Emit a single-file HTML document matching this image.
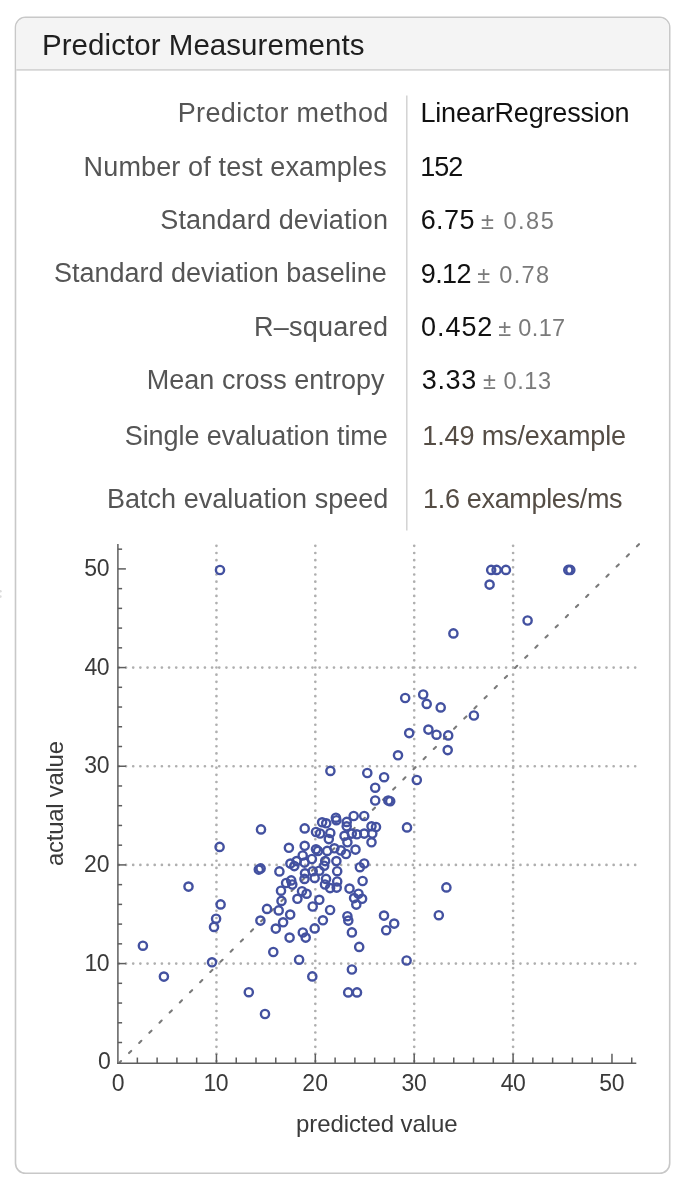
<!DOCTYPE html>
<html><head><meta charset="utf-8"><title>Predictor Measurements</title>
<style>
html,body{margin:0;padding:0;background:#fff;}
svg{display:block;font-family:"Liberation Sans",Arial,sans-serif;}
</style></head>
<body>
<svg width="685" height="1189" viewBox="0 0 685 1189">
<rect x="15.5" y="17.3" width="654.2" height="1156" rx="10" ry="10" fill="#fff" stroke="#c8c8c8" stroke-width="1.6"/>
<path d="M16.3 69.8 V27.3 A9.2 9.2 0 0 1 25.5 18.1 H659.7 A9.2 9.2 0 0 1 668.9 27.3 V69.8 Z" fill="#f4f4f4"/>
<line x1="16.3" y1="69.8" x2="668.9" y2="69.8" stroke="#d5d5d5" stroke-width="1.7"/>
<text x="41.98" y="55.3" font-size="29.5" fill="#1f1f1f" textLength="322.49" lengthAdjust="spacing">Predictor Measurements</text>
<circle cx="0.4" cy="591.3" r="1.3" fill="#dcdcdc"/><circle cx="0.4" cy="596.6" r="1.3" fill="#dcdcdc"/>
<line x1="406.8" y1="95.5" x2="406.8" y2="530.5" stroke="#d0d0d0" stroke-width="1.4"/>
<text x="177.79" y="122" font-size="27" fill="#555555" textLength="210.56" lengthAdjust="spacing">Predictor method</text>
<text x="83.59" y="175.5" font-size="27" fill="#555555" textLength="303.19" lengthAdjust="spacing">Number of test examples</text>
<text x="160.27" y="229" font-size="27" fill="#555555" textLength="227.68" lengthAdjust="spacing">Standard deviation</text>
<text x="53.97" y="282.4" font-size="27" fill="#555555" textLength="332.83" lengthAdjust="spacing">Standard deviation baseline</text>
<text x="253.99" y="336" font-size="27" fill="#555555" textLength="133.96" lengthAdjust="spacing">R–squared</text>
<text x="146.69" y="389" font-size="27" fill="#555555" textLength="237.87" lengthAdjust="spacing">Mean cross entropy</text>
<text x="124.67" y="445.4" font-size="27" fill="#555555" textLength="263.13" lengthAdjust="spacing">Single evaluation time</text>
<text x="106.89" y="508" font-size="27" fill="#555555" textLength="281.46" lengthAdjust="spacing">Batch evaluation speed</text>
<text x="420.39" y="122" font-size="27" fill="#111111" textLength="209.17" lengthAdjust="spacing">LinearRegression</text>
<text x="420.14" y="175.5" font-size="27" fill="#111111" textLength="43.11" lengthAdjust="spacing">152</text>
<text x="420.63" y="229" font-size="27" fill="#111111" textLength="53.90" lengthAdjust="spacing">6.75</text>
<text x="420.73" y="282.6" font-size="27" fill="#111111" textLength="50.72" lengthAdjust="spacing">9.12</text>
<text x="421.05" y="335.8" font-size="27" fill="#111111" textLength="71.31" lengthAdjust="spacing">0.452</text>
<text x="421.77" y="389" font-size="27" fill="#111111" textLength="54.41" lengthAdjust="spacing">3.33</text>
<text x="422.24" y="445.4" font-size="27" fill="#554d45" textLength="203.86" lengthAdjust="spacing">1.49 ms/example</text>
<text x="423.04" y="508.2" font-size="27" fill="#554d45" textLength="199.53" lengthAdjust="spacing">1.6 examples/ms</text>
<text x="481.05" y="229" font-size="23.5" fill="#7a7a7a" textLength="72.73" lengthAdjust="spacing">± 0.85</text>
<text x="477.25" y="282.6" font-size="23.5" fill="#7a7a7a" textLength="71.77" lengthAdjust="spacing">± 0.78</text>
<text x="498.15" y="335.8" font-size="23.5" fill="#7a7a7a" textLength="67.03" lengthAdjust="spacing">± 0.17</text>
<text x="483.05" y="389" font-size="23.5" fill="#7a7a7a" textLength="67.98" lengthAdjust="spacing">± 0.13</text>
<g stroke="#afafaf" stroke-width="2.7" stroke-linecap="round"><line x1="216.45" y1="1061.1" x2="216.45" y2="544.23" stroke-dasharray="0 7.156"/><line x1="118.86" y1="963.58" x2="637" y2="963.58" stroke-dasharray="0 7.171"/><line x1="315.33" y1="1061.1" x2="315.33" y2="544.23" stroke-dasharray="0 7.156"/><line x1="118.86" y1="864.91" x2="637" y2="864.91" stroke-dasharray="0 7.171"/><line x1="414.21" y1="1061.1" x2="414.21" y2="544.23" stroke-dasharray="0 7.156"/><line x1="118.86" y1="766.24" x2="637" y2="766.24" stroke-dasharray="0 7.171"/><line x1="513.09" y1="1061.1" x2="513.09" y2="544.23" stroke-dasharray="0 7.156"/><line x1="118.86" y1="667.57" x2="637" y2="667.57" stroke-dasharray="0 7.171"/></g>
<line x1="119.87" y1="1062.25" x2="638.99" y2="544.23" stroke="#7a7a7a" stroke-width="2.1" stroke-linecap="round" stroke-dasharray="3 11.35" stroke-dashoffset="1.38"/>
<g fill="none" stroke="#4351a0" stroke-width="2.4"><circle cx="304.7" cy="828.4" r="4.1"/><circle cx="322.1" cy="822.3" r="4.1"/><circle cx="326.2" cy="823.3" r="4.1"/><circle cx="335.9" cy="817.7" r="4.1"/><circle cx="336.4" cy="820.2" r="4.1"/><circle cx="316.0" cy="832.0" r="4.1"/><circle cx="320.1" cy="833.5" r="4.1"/><circle cx="330.3" cy="833.0" r="4.1"/><circle cx="328.8" cy="839.1" r="4.1"/><circle cx="288.9" cy="847.8" r="4.1"/><circle cx="304.7" cy="845.8" r="4.1"/><circle cx="316.0" cy="849.3" r="4.1"/><circle cx="318.0" cy="850.9" r="4.1"/><circle cx="327.2" cy="850.9" r="4.1"/><circle cx="334.4" cy="848.3" r="4.1"/><circle cx="302.7" cy="855.5" r="4.1"/><circle cx="311.9" cy="859.0" r="4.1"/><circle cx="290.4" cy="863.6" r="4.1"/><circle cx="296.6" cy="861.1" r="4.1"/><circle cx="325.2" cy="861.1" r="4.1"/><circle cx="324.2" cy="865.7" r="4.1"/><circle cx="336.4" cy="861.1" r="4.1"/><circle cx="294.3" cy="866.1" r="4.1"/><circle cx="304.5" cy="862.6" r="4.1"/><circle cx="305.0" cy="873.3" r="4.1"/><circle cx="304.5" cy="878.9" r="4.1"/><circle cx="312.7" cy="871.2" r="4.1"/><circle cx="314.7" cy="877.9" r="4.1"/><circle cx="319.3" cy="870.7" r="4.1"/><circle cx="337.2" cy="871.2" r="4.1"/><circle cx="326.0" cy="878.9" r="4.1"/><circle cx="325.0" cy="884.5" r="4.1"/><circle cx="330.1" cy="888.1" r="4.1"/><circle cx="337.2" cy="881.5" r="4.1"/><circle cx="336.7" cy="887.6" r="4.1"/><circle cx="349.5" cy="888.6" r="4.1"/><circle cx="286.1" cy="883.0" r="4.1"/><circle cx="291.2" cy="880.4" r="4.1"/><circle cx="292.3" cy="884.5" r="4.1"/><circle cx="281.0" cy="890.7" r="4.1"/><circle cx="281.5" cy="900.9" r="4.1"/><circle cx="302.0" cy="891.2" r="4.1"/><circle cx="306.6" cy="893.7" r="4.1"/><circle cx="297.4" cy="898.8" r="4.1"/><circle cx="319.3" cy="899.8" r="4.1"/><circle cx="312.7" cy="906.5" r="4.1"/><circle cx="330.1" cy="910.0" r="4.1"/><circle cx="290.2" cy="914.6" r="4.1"/><circle cx="283.1" cy="922.3" r="4.1"/><circle cx="322.9" cy="920.3" r="4.1"/><circle cx="347.4" cy="916.2" r="4.1"/><circle cx="314.7" cy="928.4" r="4.1"/><circle cx="220.0" cy="570.0" r="4.1"/><circle cx="491.2" cy="569.9" r="4.1"/><circle cx="496.6" cy="569.9" r="4.1"/><circle cx="505.9" cy="569.9" r="4.1"/><circle cx="489.6" cy="584.6" r="4.1"/><circle cx="527.6" cy="620.5" r="4.1"/><circle cx="453.4" cy="633.4" r="4.1"/><circle cx="405.2" cy="698.0" r="4.1"/><circle cx="423.2" cy="694.5" r="4.1"/><circle cx="426.7" cy="703.9" r="4.1"/><circle cx="440.7" cy="707.4" r="4.1"/><circle cx="473.9" cy="715.5" r="4.1"/><circle cx="409.2" cy="733.1" r="4.1"/><circle cx="428.4" cy="729.6" r="4.1"/><circle cx="436.5" cy="734.7" r="4.1"/><circle cx="448.2" cy="735.4" r="4.1"/><circle cx="447.7" cy="750.1" r="4.1"/><circle cx="398.0" cy="755.3" r="4.1"/><circle cx="330.4" cy="770.9" r="4.1"/><circle cx="367.3" cy="773.0" r="4.1"/><circle cx="384.1" cy="777.2" r="4.1"/><circle cx="416.8" cy="780.0" r="4.1"/><circle cx="375.2" cy="787.7" r="4.1"/><circle cx="375.2" cy="800.5" r="4.1"/><circle cx="388.3" cy="800.5" r="4.1"/><circle cx="407.0" cy="827.4" r="4.1"/><circle cx="353.7" cy="816.0" r="4.1"/><circle cx="364.2" cy="816.0" r="4.1"/><circle cx="346.7" cy="821.9" r="4.1"/><circle cx="346.7" cy="826.3" r="4.1"/><circle cx="371.5" cy="826.3" r="4.1"/><circle cx="376.0" cy="827.0" r="4.1"/><circle cx="351.8" cy="833.6" r="4.1"/><circle cx="356.9" cy="834.3" r="4.1"/><circle cx="364.2" cy="833.6" r="4.1"/><circle cx="372.3" cy="833.6" r="4.1"/><circle cx="344.5" cy="835.8" r="4.1"/><circle cx="371.5" cy="842.3" r="4.1"/><circle cx="347.4" cy="842.3" r="4.1"/><circle cx="340.9" cy="850.4" r="4.1"/><circle cx="355.5" cy="849.6" r="4.1"/><circle cx="346.0" cy="854.0" r="4.1"/><circle cx="364.2" cy="863.5" r="4.1"/><circle cx="359.9" cy="867.2" r="4.1"/><circle cx="261.0" cy="829.4" r="4.1"/><circle cx="219.6" cy="846.9" r="4.1"/><circle cx="267.0" cy="908.9" r="4.1"/><circle cx="278.7" cy="910.4" r="4.1"/><circle cx="260.4" cy="920.6" r="4.1"/><circle cx="275.8" cy="928.6" r="4.1"/><circle cx="302.8" cy="932.5" r="4.1"/><circle cx="289.6" cy="937.6" r="4.1"/><circle cx="305.7" cy="937.6" r="4.1"/><circle cx="362.6" cy="881.0" r="4.1"/><circle cx="358.5" cy="893.7" r="4.1"/><circle cx="354.1" cy="898.1" r="4.1"/><circle cx="362.1" cy="898.8" r="4.1"/><circle cx="356.3" cy="904.6" r="4.1"/><circle cx="384.0" cy="915.6" r="4.1"/><circle cx="394.2" cy="923.6" r="4.1"/><circle cx="386.2" cy="930.2" r="4.1"/><circle cx="351.9" cy="932.4" r="4.1"/><circle cx="273.3" cy="952.0" r="4.1"/><circle cx="299.1" cy="959.7" r="4.1"/><circle cx="312.3" cy="976.4" r="4.1"/><circle cx="248.8" cy="992.2" r="4.1"/><circle cx="359.2" cy="946.9" r="4.1"/><circle cx="406.6" cy="960.5" r="4.1"/><circle cx="351.9" cy="969.5" r="4.1"/><circle cx="348.2" cy="992.4" r="4.1"/><circle cx="357.0" cy="992.4" r="4.1"/><circle cx="188.5" cy="886.6" r="4.1"/><circle cx="220.6" cy="904.4" r="4.1"/><circle cx="216.1" cy="918.7" r="4.1"/><circle cx="214.0" cy="926.9" r="4.1"/><circle cx="142.9" cy="945.7" r="4.1"/><circle cx="163.9" cy="976.6" r="4.1"/><circle cx="212.0" cy="962.3" r="4.1"/><circle cx="265.0" cy="1014.0" r="4.1"/><circle cx="446.4" cy="887.4" r="4.1"/><circle cx="438.8" cy="915.2" r="4.1"/><circle cx="258.8" cy="869.6" r="4.1"/><circle cx="260.6" cy="868.4" r="4.1"/><circle cx="390.2" cy="801.2" r="4.1"/><circle cx="348.3" cy="920.6" r="4.1"/><circle cx="279.4" cy="871.4" r="4.1"/><circle cx="568.3" cy="569.9" r="4.1"/><circle cx="570.3" cy="569.9" r="4.1"/></g>
<g stroke="#5e5e5e" stroke-width="1.5"><line x1="117.15" y1="1063.35" x2="636.3" y2="1063.35"/><line x1="117.90" y1="1064.10" x2="117.90" y2="544"/><line x1="137.35" y1="1063.35" x2="137.35" y2="1057.55"/><line x1="117.90" y1="1042.52" x2="122.10" y2="1042.52"/><line x1="157.12" y1="1063.35" x2="157.12" y2="1057.55"/><line x1="117.90" y1="1022.78" x2="122.10" y2="1022.78"/><line x1="176.90" y1="1063.35" x2="176.90" y2="1057.55"/><line x1="117.90" y1="1003.05" x2="122.10" y2="1003.05"/><line x1="196.67" y1="1063.35" x2="196.67" y2="1057.55"/><line x1="117.90" y1="983.31" x2="122.10" y2="983.31"/><line x1="216.45" y1="1063.35" x2="216.45" y2="1053.85"/><line x1="117.90" y1="963.58" x2="125.90" y2="963.58"/><line x1="236.23" y1="1063.35" x2="236.23" y2="1057.55"/><line x1="117.90" y1="943.85" x2="122.10" y2="943.85"/><line x1="256.00" y1="1063.35" x2="256.00" y2="1057.55"/><line x1="117.90" y1="924.11" x2="122.10" y2="924.11"/><line x1="275.78" y1="1063.35" x2="275.78" y2="1057.55"/><line x1="117.90" y1="904.38" x2="122.10" y2="904.38"/><line x1="295.55" y1="1063.35" x2="295.55" y2="1057.55"/><line x1="117.90" y1="884.64" x2="122.10" y2="884.64"/><line x1="315.33" y1="1063.35" x2="315.33" y2="1053.85"/><line x1="117.90" y1="864.91" x2="125.90" y2="864.91"/><line x1="335.11" y1="1063.35" x2="335.11" y2="1057.55"/><line x1="117.90" y1="845.18" x2="122.10" y2="845.18"/><line x1="354.88" y1="1063.35" x2="354.88" y2="1057.55"/><line x1="117.90" y1="825.44" x2="122.10" y2="825.44"/><line x1="374.66" y1="1063.35" x2="374.66" y2="1057.55"/><line x1="117.90" y1="805.71" x2="122.10" y2="805.71"/><line x1="394.43" y1="1063.35" x2="394.43" y2="1057.55"/><line x1="117.90" y1="785.97" x2="122.10" y2="785.97"/><line x1="414.21" y1="1063.35" x2="414.21" y2="1053.85"/><line x1="117.90" y1="766.24" x2="125.90" y2="766.24"/><line x1="433.99" y1="1063.35" x2="433.99" y2="1057.55"/><line x1="117.90" y1="746.51" x2="122.10" y2="746.51"/><line x1="453.76" y1="1063.35" x2="453.76" y2="1057.55"/><line x1="117.90" y1="726.77" x2="122.10" y2="726.77"/><line x1="473.54" y1="1063.35" x2="473.54" y2="1057.55"/><line x1="117.90" y1="707.04" x2="122.10" y2="707.04"/><line x1="493.31" y1="1063.35" x2="493.31" y2="1057.55"/><line x1="117.90" y1="687.30" x2="122.10" y2="687.30"/><line x1="513.09" y1="1063.35" x2="513.09" y2="1053.85"/><line x1="117.90" y1="667.57" x2="125.90" y2="667.57"/><line x1="532.87" y1="1063.35" x2="532.87" y2="1057.55"/><line x1="117.90" y1="647.84" x2="122.10" y2="647.84"/><line x1="552.64" y1="1063.35" x2="552.64" y2="1057.55"/><line x1="117.90" y1="628.10" x2="122.10" y2="628.10"/><line x1="572.42" y1="1063.35" x2="572.42" y2="1057.55"/><line x1="117.90" y1="608.37" x2="122.10" y2="608.37"/><line x1="592.19" y1="1063.35" x2="592.19" y2="1057.55"/><line x1="117.90" y1="588.63" x2="122.10" y2="588.63"/><line x1="611.97" y1="1063.35" x2="611.97" y2="1053.85"/><line x1="117.90" y1="568.90" x2="125.90" y2="568.90"/><line x1="631.75" y1="1063.35" x2="631.75" y2="1057.55"/><line x1="117.90" y1="549.17" x2="122.10" y2="549.17"/></g>
<text x="111.72" y="1090.62" font-size="23" fill="#3a3a3a" textLength="11.70" lengthAdjust="spacing">0</text>
<text x="97.90" y="1068.82" font-size="23" fill="#3a3a3a" textLength="11.70" lengthAdjust="spacing">0</text>
<text x="203.50" y="1090.62" font-size="23" fill="#3a3a3a" textLength="25.05" lengthAdjust="spacing">10</text>
<text x="84.55" y="970.8" font-size="23" fill="#3a3a3a" textLength="25.05" lengthAdjust="spacing">10</text>
<text x="302.37" y="1090.62" font-size="23" fill="#3a3a3a" textLength="25.66" lengthAdjust="spacing">20</text>
<text x="83.94" y="872.13" font-size="23" fill="#3a3a3a" textLength="25.66" lengthAdjust="spacing">20</text>
<text x="401.53" y="1090.62" font-size="23" fill="#3a3a3a" textLength="25.37" lengthAdjust="spacing">30</text>
<text x="84.22" y="773.46" font-size="23" fill="#3a3a3a" textLength="25.37" lengthAdjust="spacing">30</text>
<text x="500.76" y="1090.62" font-size="23" fill="#3a3a3a" textLength="25.03" lengthAdjust="spacing">40</text>
<text x="84.57" y="674.79" font-size="23" fill="#3a3a3a" textLength="25.03" lengthAdjust="spacing">40</text>
<text x="599.25" y="1090.62" font-size="23" fill="#3a3a3a" textLength="25.42" lengthAdjust="spacing">50</text>
<text x="84.18" y="576.12" font-size="23" fill="#3a3a3a" textLength="25.42" lengthAdjust="spacing">50</text>
<text x="295.95" y="1131.5" font-size="24" fill="#3a3a3a" textLength="161.71" lengthAdjust="spacing">predicted value</text>
<text transform="translate(63.1 866.02) rotate(-90)" x="0" y="0" font-size="24" fill="#3a3a3a" textLength="125.09" lengthAdjust="spacing">actual value</text>
</svg>
</body></html>
